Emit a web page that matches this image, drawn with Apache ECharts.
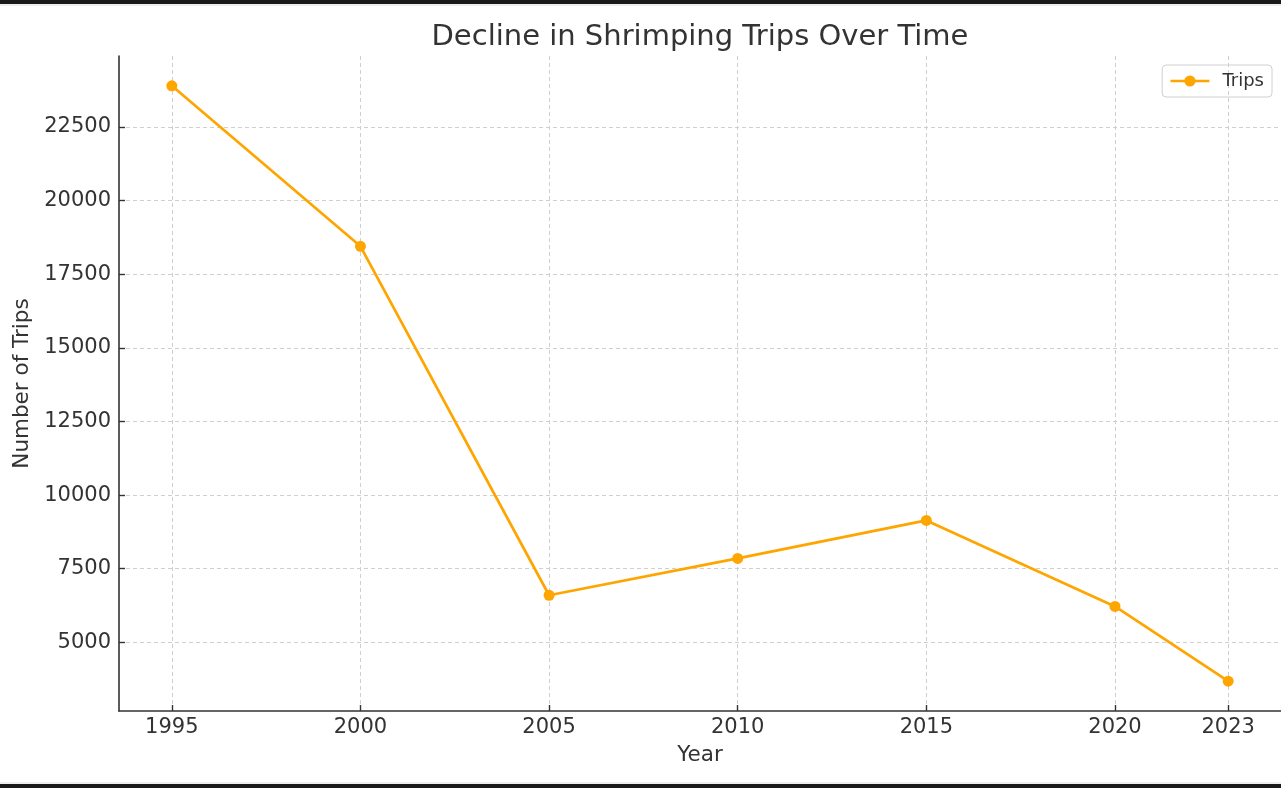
<!DOCTYPE html>
<html>
<head>
<meta charset="utf-8">
<script src="https://cdn.jsdelivr.net/npm/echarts@6/dist/echarts.min.js"></script>
<style>
  html, body { margin: 0; padding: 0; background: #fff; }
  #chart { width: 1281px; height: 788px; }
</style>
</head>
<body>
<div id="chart"></div>
<script>
// data
const years = [1995, 2000, 2005, 2010, 2015, 2020, 2023];
const trips = [23900, 18450, 6600, 7850, 9140, 6220, 3680];
const yearTicks = [1995, 2000, 2005, 2010, 2015, 2020, 2023];
const tripTicks = [5000, 7500, 10000, 12500, 15000, 17500, 20000, 22500];

const chart = echarts.init(document.getElementById('chart'));

const textColor = '#333';
const font = 'DejaVu Sans';

// matplotlib style 5% margins around the data
const xMin = 1995 - 28 * 0.05, xMax = 2023 + 28 * 0.05;
const yLo = Math.min(...trips), yHi = Math.max(...trips);
const yMin = yLo - (yHi - yLo) * 0.05, yMax = yHi + (yHi - yLo) * 0.05;

chart.setOption({
  backgroundColor: '#fff',
  animation: false,
  textStyle: { fontFamily: font },
  title: {
    text: 'Decline in Shrimping Trips Over Time',
    left: 695, top: 18,
    textAlign: 'center',
    textStyle: { fontFamily: font, fontSize: 29, fontWeight: 'normal', color: textColor }
  },
  legend: {
    right: 9, top: 65,
    data: ['Trips'],
    itemWidth: 39, itemHeight: 14,
    itemGap: 6,
    padding: [7, 8, 7, 7],
    lineStyle: { width: 2.5 },
    borderColor: '#d0d0d0', borderWidth: 1, borderRadius: 4,
    textStyle: { fontFamily: font, fontSize: 18, color: textColor, padding: [0, 0, 0, 8] }
  },
  grid: { left: 119, right: 0, top: 56, bottom: 77, containLabel: false },
  xAxis: {
    type: 'value',
    min: xMin, max: xMax,
    name: 'Year',
    nameLocation: 'middle',
    nameGap: 33,
    nameTextStyle: { fontFamily: font, fontSize: 21.5, color: textColor },
    axisLine: { lineStyle: { color: '#333', width: 1.6 } },
    axisTick: { inside: true, length: 6, customValues: yearTicks, lineStyle: { color: '#333', width: 1.4 } },
    axisLabel: { customValues: yearTicks, formatter: v => String(v), fontFamily: font, fontSize: 21, color: textColor, margin: 6 },
    splitLine: { show: true, lineStyle: { color: '#cfcfcf', type: [4, 3], width: 1 } }
  },
  yAxis: {
    type: 'value',
    min: yMin, max: yMax,
    name: 'Number of Trips',
    nameLocation: 'middle',
    nameGap: 81,
    nameTextStyle: { fontFamily: font, fontSize: 21.5, color: textColor },
    axisLine: { show: true, lineStyle: { color: '#333', width: 1.6 } },
    axisTick: { show: true, inside: true, length: 6, customValues: tripTicks, lineStyle: { color: '#333', width: 1.4 } },
    axisLabel: { customValues: tripTicks, formatter: v => String(v), fontFamily: font, fontSize: 21, color: textColor, margin: 8 },
    splitLine: { show: true, lineStyle: { color: '#cfcfcf', type: [4, 3], width: 1 } }
  },
  series: [{
    name: 'Trips',
    type: 'line',
    data: years.map((y, i) => [y, trips[i]]),
    symbol: 'circle',
    symbolSize: 11,
    color: '#FFA500',
    lineStyle: { width: 2.7, color: '#FFA500' },
    itemStyle: { color: '#FFA500' }
  }],
  graphic: [
    { type: 'rect', left: 0, top: 0, shape: { width: 1281, height: 4 }, style: { fill: '#1a1a1a' } },
    { type: 'rect', left: 0, top: 4, shape: { width: 1281, height: 2 }, style: { fill: '#eeeeee' } },
    { type: 'rect', left: 0, top: 782, shape: { width: 1281, height: 2 }, style: { fill: '#eeeeee' } },
    { type: 'rect', left: 0, top: 784, shape: { width: 1281, height: 4 }, style: { fill: '#1a1a1a' } }
  ]
});
</script>
</body>
</html>
